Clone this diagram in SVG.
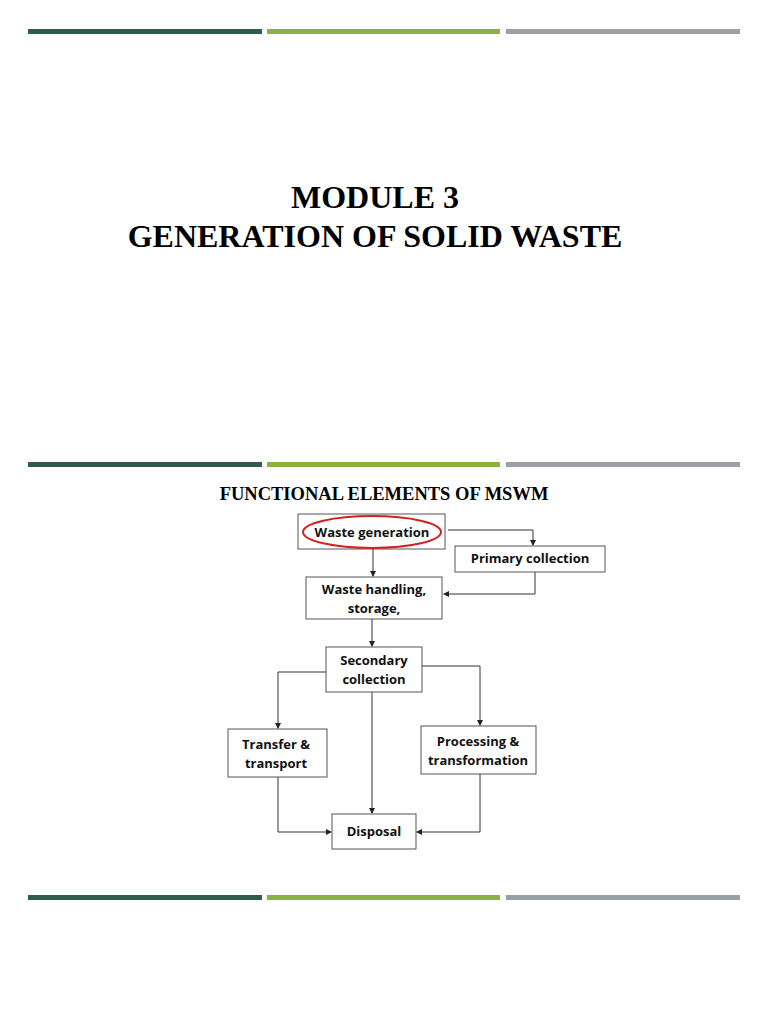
<svg xmlns="http://www.w3.org/2000/svg" width="768" height="1024" viewBox="0 0 768 1024">
<style>
.t{font-family:"Liberation Serif",serif;font-weight:bold;text-anchor:middle;fill:#000}
.n{fill:#fff;stroke:#555;stroke-width:1}
.l{font-family:"Open Sans","Liberation Sans",sans-serif;font-weight:bold;font-size:13px;text-anchor:middle;fill:#111}
.c{fill:none;stroke:#333;stroke-width:1;marker-end:url(#a)}
</style>
<defs><marker id="a" markerWidth="6" markerHeight="6" refX="5" refY="3" orient="auto"><path d="M0,0 L6,3 L0,6z" fill="#222"/></marker></defs>
<rect width="768" height="1024" fill="#fff"/>
<g id="bars">
<rect x="28" y="29" width="234" height="5" fill="#2f5c4f"/><rect x="267" y="29" width="233" height="5" fill="#8bb13f"/><rect x="506" y="29" width="234" height="5" fill="#9aa0a6"/>
<rect x="28" y="462" width="234" height="5" fill="#2f5c4f"/><rect x="267" y="462" width="233" height="5" fill="#8bb13f"/><rect x="506" y="462" width="234" height="5" fill="#9aa0a6"/>
<rect x="28" y="895" width="234" height="5" fill="#2f5c4f"/><rect x="267" y="895" width="233" height="5" fill="#8bb13f"/><rect x="506" y="895" width="234" height="5" fill="#9aa0a6"/>
</g>
<text class="t" x="375" y="208" font-size="32">MODULE 3</text>
<text class="t" x="375" y="247" font-size="32">GENERATION OF SOLID WASTE</text>
<text class="t" x="384" y="500" font-size="18.5">FUNCTIONAL ELEMENTS OF MSWM</text>
<g id="connectors">
<path class="c" d="M448,530 H533 V545"/>
<path class="c" d="M535,572 V594 H444"/>
<path class="c" d="M373,549 V576"/>
<path class="c" d="M372,619 V646"/>
<path class="c" d="M326,672 H278 V728"/>
<path class="c" d="M422,666 H480 V725"/>
<path class="c" d="M372,692 V813"/>
<path class="c" d="M278,777 V832 H331"/>
<path class="c" d="M480,774 V832 H417"/>
</g>
<g id="waste-generation"><rect class="n" x="298" y="514" width="147" height="35"/><ellipse cx="372" cy="532" rx="69" ry="16" fill="none" stroke="#d62020" stroke-width="2"/><text class="l" x="372" y="537">Waste generation</text></g>
<g id="primary-collection"><rect class="n" x="455" y="546" width="150" height="26" stroke="#333"/><text class="l" x="530" y="563">Primary collection</text></g>
<g id="waste-handling"><rect class="n" x="306" y="577" width="136" height="42"/><text class="l" x="374" y="594">Waste handling,</text><text class="l" x="374" y="613">storage,</text></g>
<g id="secondary-collection"><rect class="n" x="326" y="647" width="96" height="45" stroke="#111" stroke-width="2"/><text class="l" x="374" y="665">Secondary</text><text class="l" x="374" y="684">collection</text></g>
<g id="transfer"><rect class="n" x="228" y="729" width="99" height="48" stroke="#333"/><text class="l" x="276" y="749">Transfer &amp;</text><text class="l" x="276" y="768">transport</text></g>
<g id="processing"><rect class="n" x="421" y="726" width="115" height="48"/><text class="l" x="478" y="746">Processing &amp;</text><text class="l" x="478" y="765">transformation</text></g>
<g id="disposal"><rect class="n" x="332" y="814" width="84" height="35"/><text class="l" x="374" y="836">Disposal</text></g>
</svg>
